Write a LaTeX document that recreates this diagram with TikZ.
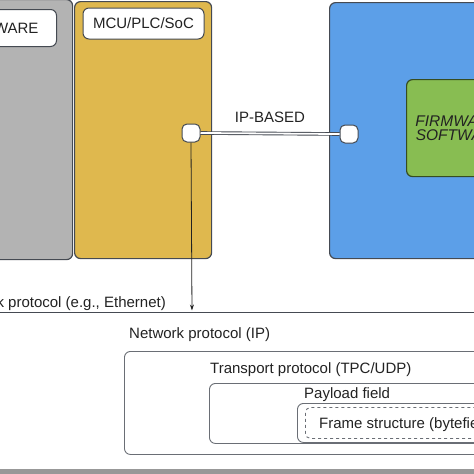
\documentclass[tikz,border=0pt]{standalone}
\usepackage{fontspec}
\setmainfont{Liberation Sans}
\usetikzlibrary{positioning}
\usetikzlibrary{arrows.meta}
\definecolor{hwgray}{HTML}{B3B3B3}
\definecolor{mcuyellow}{HTML}{DFB84E}
\definecolor{devblue}{HTML}{5C9FE8}
\definecolor{fwgreen}{HTML}{88BD52}
\definecolor{edge}{HTML}{454A52}
\definecolor{ink}{HTML}{222222}

\begin{document}
\begin{tikzpicture}[x=1pt, y=-1pt,
    every node/.style={font=\fontsize{15}{14}\selectfont, text=ink},
    block/.style={draw=edge, line width=1.2pt, rounded corners=6pt, anchor=north west, inner sep=0pt},
    tag/.style={draw=edge, line width=1pt, fill=white, rounded corners=6pt, inner sep=0pt},
    port/.style={draw=edge, line width=1pt, fill=white, rounded corners=5pt, minimum size=18pt, inner sep=0pt},
    layer/.style={draw=edge!80, line width=0.9pt, rounded corners=6pt, anchor=north west, inner sep=0pt},
    caption/.style={anchor=base west, inner sep=0pt}]
    \useasboundingbox (0,0) rectangle (474,474);
    \clip (0,0) rectangle (474,474);
    \node[block, fill=hwgray, minimum width=142pt, minimum height=260pt] (hw) at (-70,-1) {};
    \node[tag, minimum width=123pt, minimum height=37pt, anchor=north east] (hwtag) at (57,9) {HARDWARE};
    \node[block, fill=mcuyellow, minimum width=137pt, minimum height=257pt] (mcu) at (74,1) {};
    \node[tag, minimum width=121pt, minimum height=31pt] (mcutag) at (143.5,23.5) {MCU/PLC/SoC};
    \node[block, fill=devblue, minimum width=210pt, minimum height=256pt] (dev) at (329,2) {};
    \node[block, fill=fwgreen, draw=fwgreen!40!black, minimum width=106pt, minimum height=97pt] (fw) at (406,79) {};
    \node[align=center, font=\fontsize{15.5}{14}\selectfont\itshape] (fwtext) at (fw.center) {FIRMWARE/\\SOFTWARE};
    \node[port] (mcuport) at (191,133) {};
    \node[port] (devport) at (349,134) {};
    \draw[edge, line width=0.9pt, double=white, double distance=1.8pt] (mcuport.east) -- (devport.west);
    \node[anchor=base, inner sep=0pt] (ip) at (270,122) {IP-BASED};
    \coordinate (linkL) at (0,312);
    \coordinate (linkR) at (474,312);
    \draw[edge, line width=0.9pt] (linkL) -- (linkR);
    \node[anchor=base east, inner sep=0pt] (link) at (166,307) {Data link protocol (e.g., Ethernet)};
    \coordinate (hit) at (192,312);
    \draw[ink, line width=0.8pt, -{Stealth[length=6pt, width=4pt]}, shorten >=1.5pt] (mcuport.south) -- (hit);
    \node[caption] (netcap) at (129,338) {Network protocol (IP)};
    \node[layer, minimum width=400pt, minimum height=103pt] (net) at (124,351) {};
    \node[caption] (trcap) at (210,373) {Transport protocol (TPC/UDP)};
    \node[layer, minimum width=320pt, minimum height=60pt] (tr) at (209,383) {};
    \node[caption] (paycap) at (304,398) {Payload field};
    \node[layer, minimum width=240pt, minimum height=39pt] (pay) at (297,403) {};
    \node[layer, dashed, rounded corners=5pt, minimum width=230pt, minimum height=31pt] (frame) at (305,407) {};
    \node[caption] (framecap) at (319,428) {Frame structure (bytefield)};
    \fill[hwgray!85!black] (0,469) rectangle (474,474);
\end{tikzpicture}
\end{document}
